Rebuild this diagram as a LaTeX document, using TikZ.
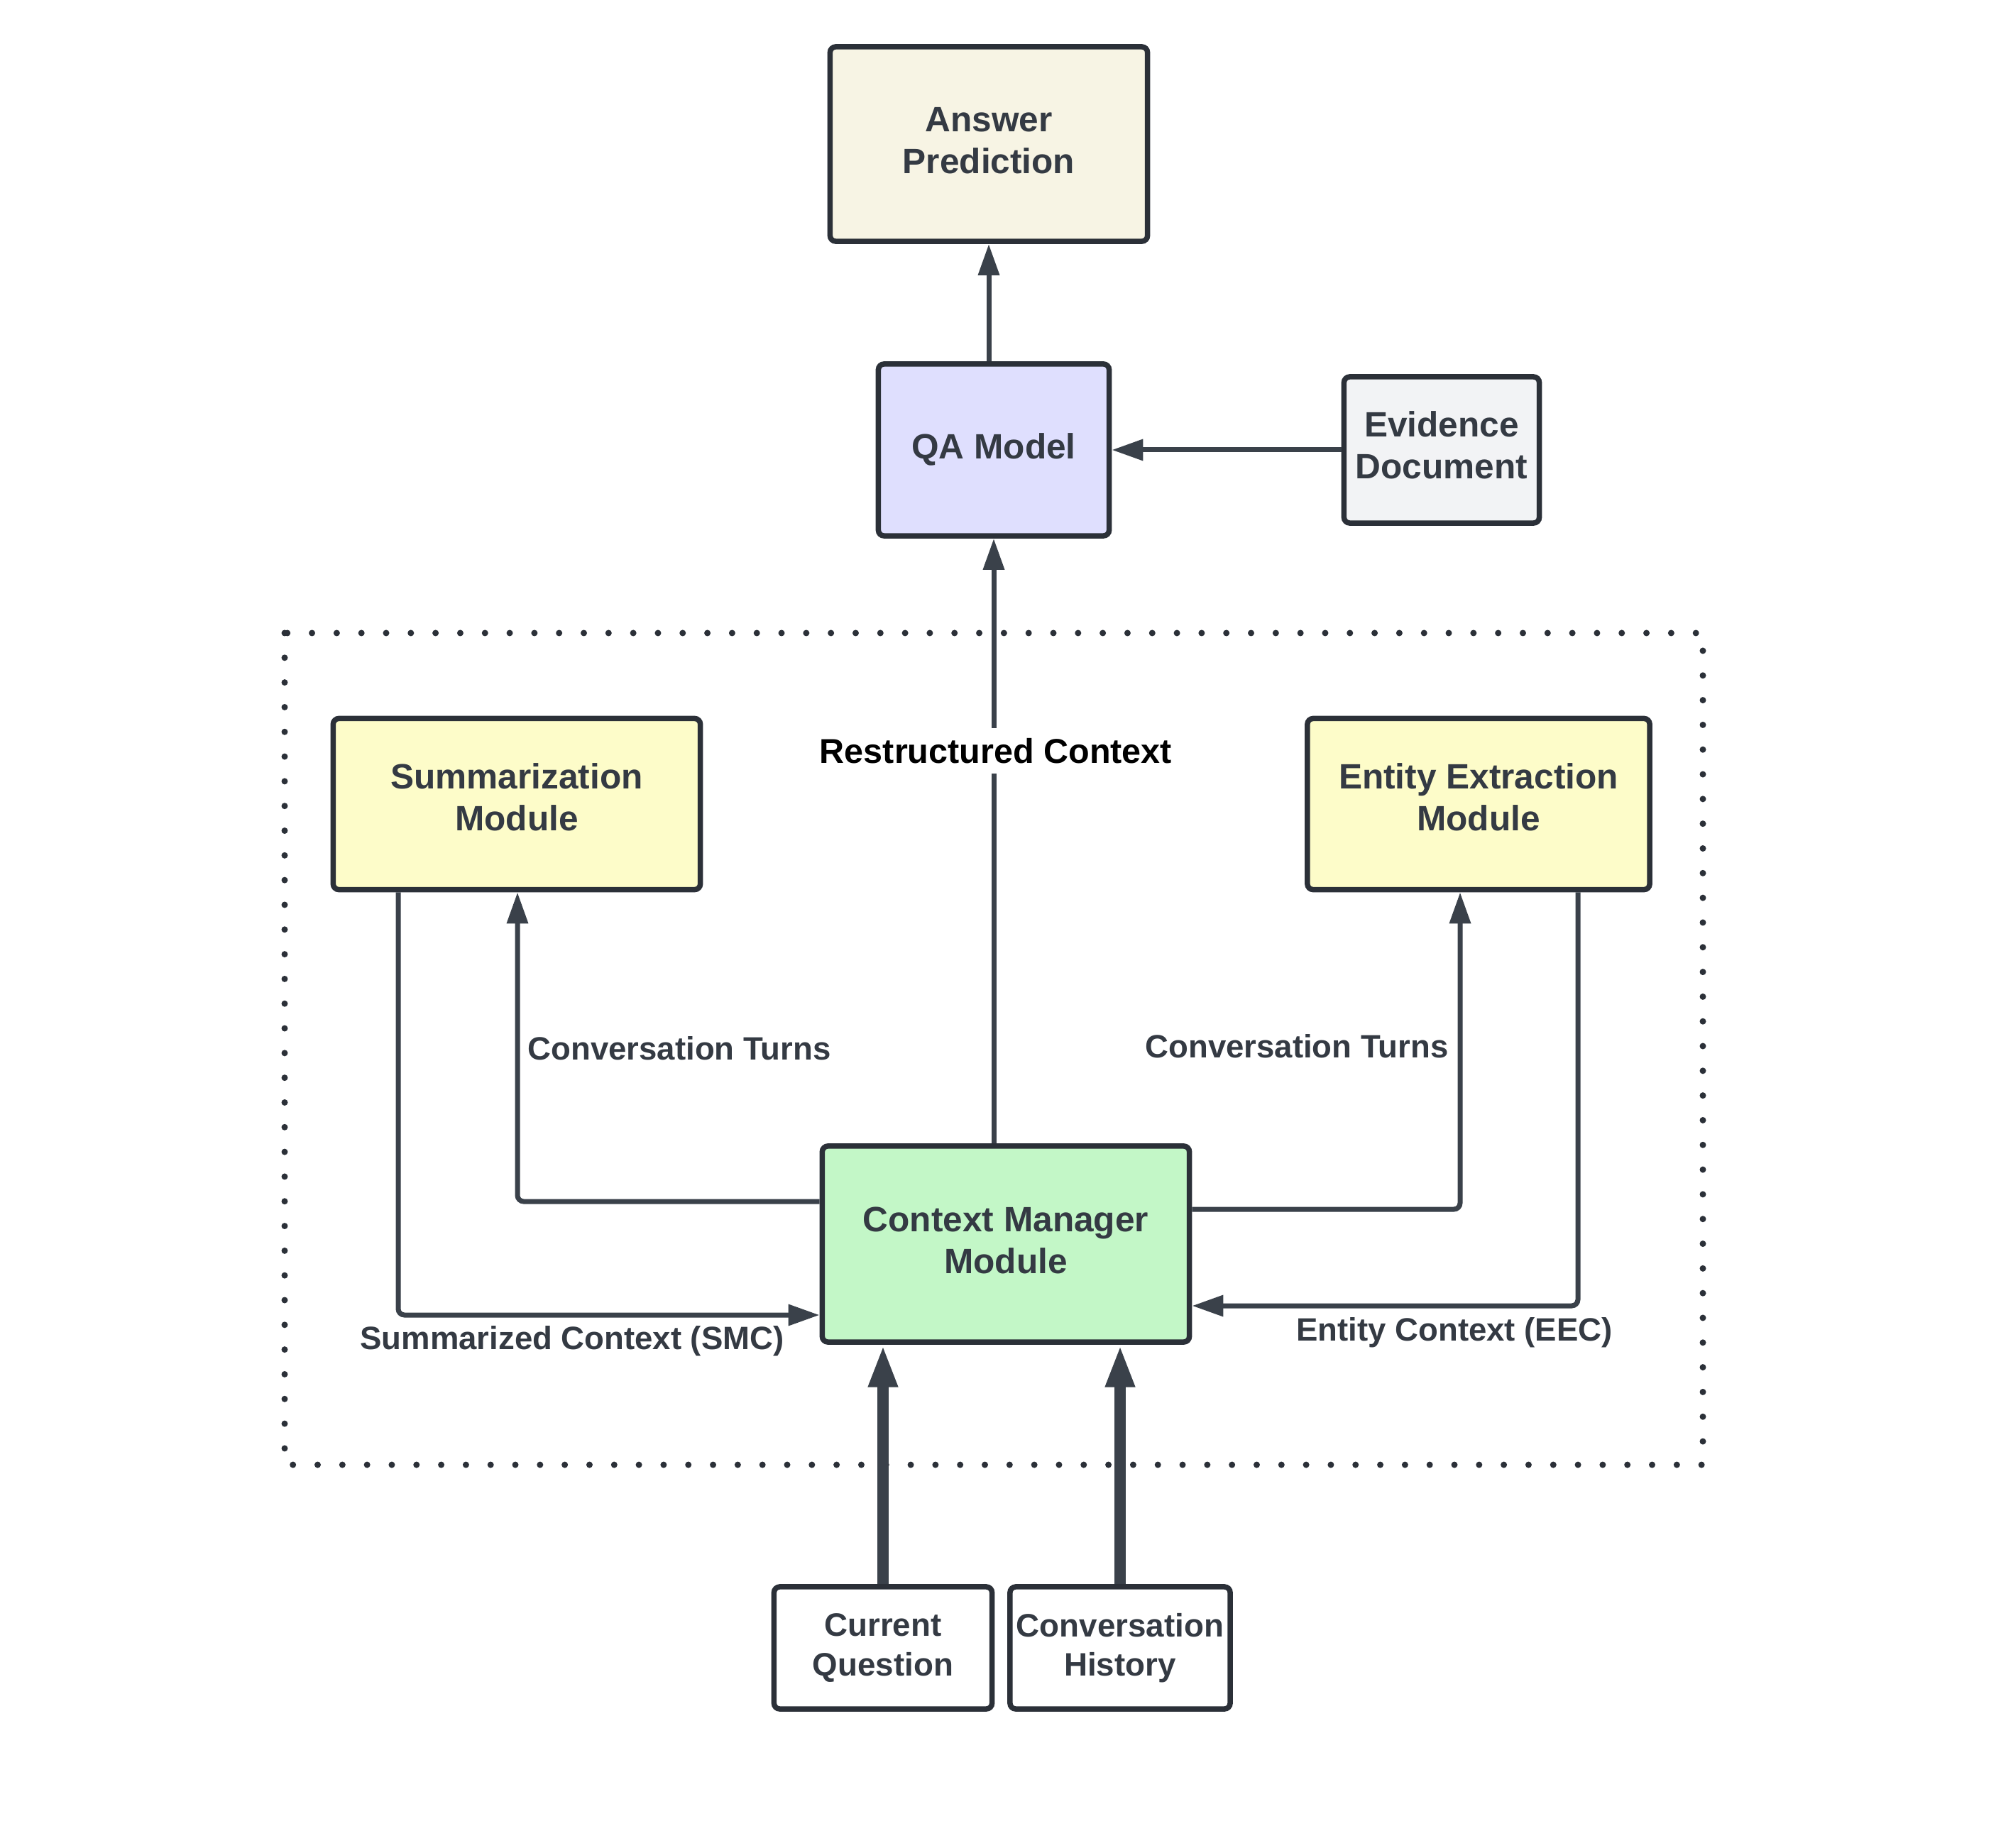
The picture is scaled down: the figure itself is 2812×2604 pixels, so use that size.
\documentclass[tikz,border=0pt]{standalone}
\usepackage{fontspec}
\setmainfont{Liberation Sans}
\usetikzlibrary{arrows.meta}
\definecolor{bordc}{HTML}{2B3038}
\definecolor{connc}{HTML}{3A414A}
\definecolor{txtc}{HTML}{343A43}
\definecolor{ansc}{HTML}{F7F4E4}
\definecolor{qac}{HTML}{DFDFFE}
\definecolor{evc}{HTML}{F2F3F5}
\definecolor{modc}{HTML}{FDFCC9}
\definecolor{cmc}{HTML}{C3F7C7}
\newcommand\bxfont{\fontsize{14.1}{16.8}\selectfont\bfseries}
\newcommand\smbxfont{\fontsize{13}{15.8}\selectfont\bfseries}
\newcommand\lblfont{\fontsize{12.95}{15}\selectfont\bfseries}
\newcommand\rcfont{\fontsize{13.8}{16}\selectfont\bfseries}
\newcommand\lift[1]{\rule[-#1]{0pt}{0pt}}
\begin{document}
\begin{tikzpicture}[x=0.01cm,y=-0.01cm,
  box/.style={draw=bordc, line width=0.075cm, rounded corners=2.3pt, inner sep=0pt,
    align=center, font=\bxfont, text=txtc},
  conn/.style={draw=connc, line width=0.07cm, rounded corners=2.5pt,
    -{Triangle[length=12.5pt,width=8.2pt]}},
  thickconn/.style={draw=connc, line width=0.16cm,
    -{Triangle[length=17pt,width=10.8pt]}},
  lbl/.style={inner sep=0pt, font=\lblfont, text=txtc},
  frame/.style={draw=bordc, line width=2.56pt, dash pattern=on 0pt off 9.9pt, line cap=round}
]
\useasboundingbox (0,0) rectangle (2812,2604);

% dotted frame
\draw[frame] (401,892) rectangle (2399,2064);

% boxes
\node[box, fill=ansc, minimum width=4.47cm, minimum height=2.74cm] (ans) at (1393,203) {Answer\\Prediction\lift{0.1cm}};
\node[box, fill=qac, minimum width=3.25cm, minimum height=2.42cm] (qa) at (1400,634) {QA Model\lift{0.1cm}};
\node[box, fill=evc, minimum width=2.75cm, minimum height=2.06cm] (evid) at (2031,634) {Evidence\\Document\lift{0.14cm}};
\node[box, fill=modc, minimum width=5.17cm, minimum height=2.41cm] (summ) at (728,1133) {Summarization\\Module\lift{0.2cm}};
\node[box, fill=modc, minimum width=4.82cm, minimum height=2.41cm] (ent) at (2083,1133) {Entity Extraction\\Module\lift{0.2cm}};
\node[box, fill=cmc, minimum width=5.17cm, minimum height=2.76cm] (cm) at (1417,1753) {Context Manager\\Module\lift{0.1cm}};
\node[box, fill=white, font=\smbxfont, minimum width=3.07cm, minimum height=1.72cm] (cq) at (1244,2322) {Current\\Question};
\node[box, fill=white, font=\smbxfont, minimum width=3.10cm, minimum height=1.72cm] (ch) at (1578,2322) {Conversation\\History};

% connectors
\draw[conn] (ans.south |- qa.north) -- (ans.south);
\draw[conn] (evid.west) -- (qa.east);
\draw[conn] (qa.south |- cm.north) -- (qa.south);
\node[lbl, font=\rcfont, text=black, fill=white, inner ysep=4pt, inner xsep=0pt] (rc) at (1403,1058) {Restructured Context};

\draw[conn] (cm.west |- 0,1693) -| (729,0 |- summ.south);
\draw[conn] (561,0 |- summ.south) |- (cm.west |- 0,1853);
\draw[conn] (cm.east |- 0,1704) -| (2057,0 |- ent.south);
\draw[conn] (2223,0 |- ent.south) |- (cm.east |- 0,1840);

\draw[thickconn] (cq.north) -- (cq.north |- cm.south);
\draw[thickconn] (ch.north) -- (ch.north |- cm.south);

% labels
\node[lbl, anchor=west] (l1) at (743,1477) {Conversation Turns};
\node[lbl, anchor=east] (l2) at (2041,1474) {Conversation Turns};
\node[lbl] (l3) at (806,1890) {Summarized Context (SMC)};
\node[lbl] (l4) at (2049,1878) {Entity Context (EEC)};
\end{tikzpicture}
\end{document}
